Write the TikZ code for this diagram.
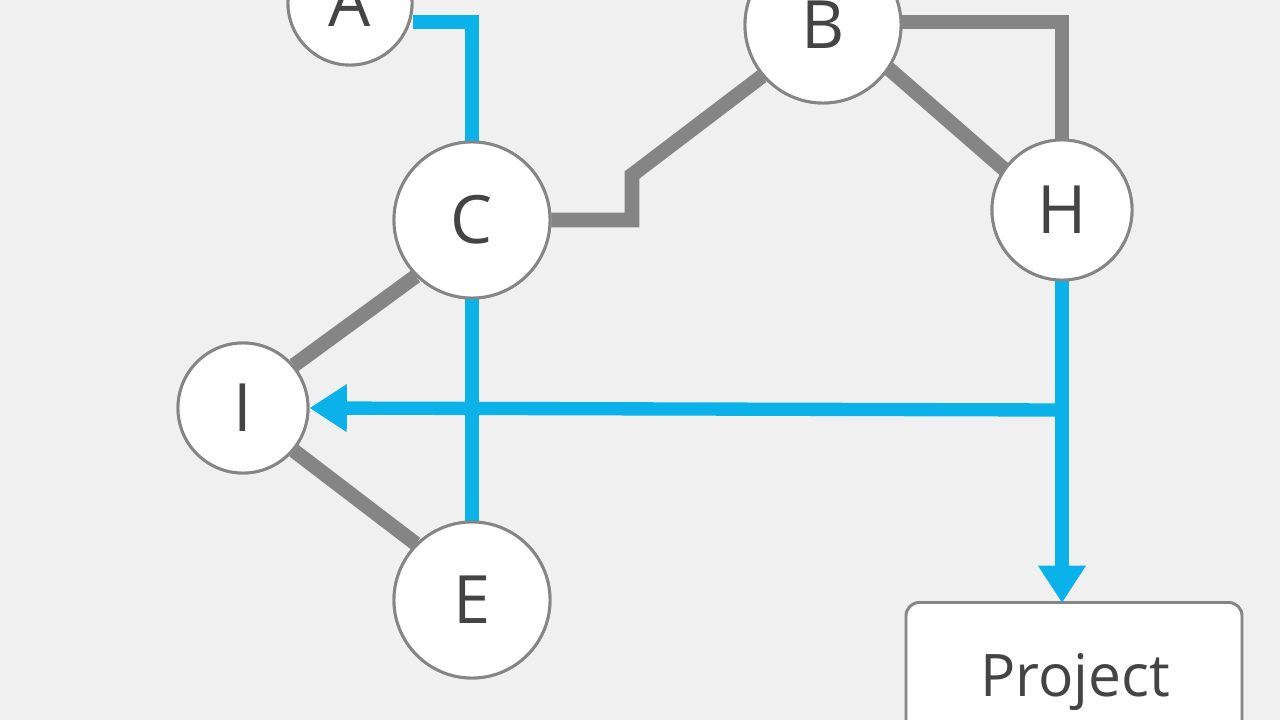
\documentclass[tikz,border=0pt]{standalone}
\usepackage{fontspec}
\setmainfont{Open Sans}
\usetikzlibrary{arrows.meta}
\definecolor{bg}{HTML}{F0F0F0}
\definecolor{bl}{HTML}{0BB2EA}
\definecolor{gr}{HTML}{858585}
\definecolor{tx}{HTML}{444444}
\begin{document}
\begin{tikzpicture}[x=0.75pt,y=-0.75pt,
  circ/.style={circle,draw=gr,line width=2.2pt,fill=white,text=tx,font=\fontsize{50}{50}\selectfont,inner sep=0pt},
  gline/.style={draw=gr,line width=11pt},
  bline/.style={draw=bl,line width=10pt},
  arr/.style={-{Triangle[length=28pt,width=34pt]}}]
\fill[bg] (0,0) rectangle (1280,720);
\useasboundingbox (0,0) rectangle (1280,720);
\coordinate (ac) at (472,22);
\coordinate (cr) at (632,220);
\coordinate (cu) at (632,175);
\coordinate (bh) at (1062,22);
\coordinate (hj) at (1062,410);
\coordinate (bd) at (888,68);
\coordinate (hd) at (1005,170);
\node[circ,minimum size=124pt*0.75] (A) at (350,3) {A};
\node[circ,minimum size=156pt*0.75] (B) at (823,25) {B};
\node[circ,minimum size=156pt*0.75] (C) at (472,220) {C};
\node[circ,minimum size=140pt*0.75] (H) at (1062,210) {H};
\node[circ,minimum size=130pt*0.75] (I) at (243,408) {I};
\node[circ,minimum size=156pt*0.75] (E) at (472,600) {E};
\node[draw=gr,line width=2.2pt,fill=white,rounded corners=10pt,minimum width=336*0.75pt,minimum height=160*0.75pt,anchor=north,text=tx,font=\fontsize{44}{44}\selectfont,text depth=0pt] (P) at (1074,601) {};
\node[text=tx,font=\fontsize{44}{44}\selectfont] (Pt) at (1075,682) {Project};
\path[bline] (A.east|-ac) -- (ac) -- (C.north);
\path[bline] (C.south) -- (E.north);
\path[bline,arr] (H.south) -- ([yshift=-1.5pt]H.south|-P.north);
\path[bline,arr] (hj) -- (I.east);
\path[gline] (C.east) -- (cr) -- (cu) -- (B.-140);
\path[gline] (B.east|-bh) -- (bh) -- (H.north);
\path[gline] (bd) -- (hd);
\path[gline] (C.-135) -- (I.40);
\path[gline] (I.-40) -- (E.135);
\node[circ,minimum size=124pt*0.75] at (A) {A};
\node[circ,minimum size=156pt*0.75] at (B) {B};
\node[circ,minimum size=156pt*0.75] at (C) {C};
\node[circ,minimum size=140pt*0.75] at (H) {H};
\node[circ,minimum size=130pt*0.75] at (I) {I};
\node[circ,minimum size=156pt*0.75] at (E) {E};
\end{tikzpicture}
\end{document}
